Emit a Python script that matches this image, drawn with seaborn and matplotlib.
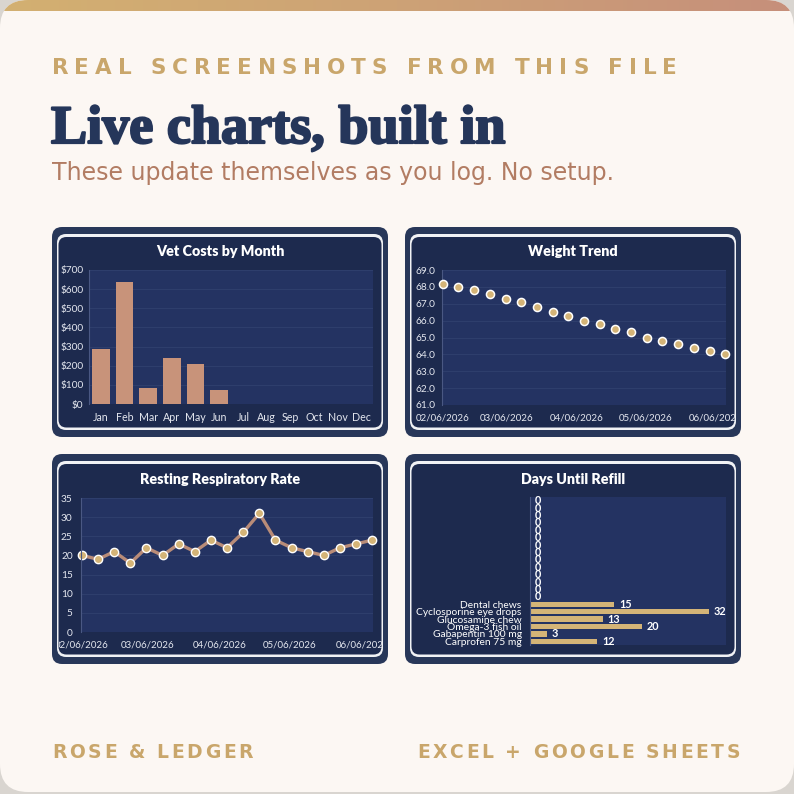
import numpy as np
import pandas as pd
import matplotlib
matplotlib.use('Agg')
import matplotlib.pyplot as plt
import matplotlib.patheffects as pe
import seaborn as sns
from matplotlib.patches import FancyBboxPatch
from matplotlib.font_manager import FontProperties
from matplotlib.colors import LinearSegmentedColormap
from matplotlib.ticker import FixedLocator, StrMethodFormatter
from matplotlib.transforms import Bbox

# chart data
months = ['Jan', 'Feb', 'Mar', 'Apr', 'May', 'Jun', 'Jul', 'Aug', 'Sep', 'Oct', 'Nov', 'Dec']
vet_costs = [285, 635, 85, 240, 210, 75, 0, 0, 0, 0, 0, 0]

weight_kg = [68.2, 68.0, 67.8, 67.6, 67.3, 67.1, 66.8, 66.5, 66.3, 66.0,
             65.8, 65.5, 65.3, 65.0, 64.8, 64.6, 64.4, 64.2, 64.0]
resp_rate = [20, 19, 21, 18, 22, 20, 23, 21, 24, 22, 26, 31, 24, 22, 21, 20, 22, 23, 24]
date_labels = ['02/06/2026', '03/06/2026', '04/06/2026', '05/06/2026', '06/06/2026']
date_tick_pos = [0, 4.05, 8.55, 12.9, 17.4]

blank_rows = [' ' * (i + 1) for i in range(14)]
meds = blank_rows + ['Dental chews', 'Cyclosporine eye drops', 'Glucosamine chew',
                     'Omega-3 fish oil', 'Gabapentin 100 mg', 'Carprofen 75 mg']
days_left = [0] * 14 + [15, 32, 13, 20, 3, 12]

# colours
cream = '#FCF7F3'
gold_txt = '#C9A66B'
navy_txt = '#25365A'
rose_txt = '#B27C63'
frame_col = '#283759'
inner_col = '#1D2A4E'
plot_col = '#243362'
grid_col = '#2F3F6D'
bar_rose = '#C8937A'
gold = '#D4B477'
line_rose = '#B98C78'
tick_col = '#E4E7EF'

sns.set_theme(style='white')
plt.rcParams['font.family'] = ['Lato', 'DejaVu Sans']

W = H = 794
fig = plt.figure(figsize=(7.94, 7.94), dpi=100, facecolor='#D9D5D0')
bg = fig.add_axes([0, 0, 1, 1])
bg.set_xlim(0, W)
bg.set_ylim(H, 0)
bg.axis('off')

card = FancyBboxPatch((0, 0), W, H - 2, boxstyle='round,pad=0,rounding_size=28',
                      fc=cream, ec='none', zorder=0)
bg.add_patch(card)
grad_cmap = LinearSegmentedColormap.from_list('band', ['#D3B071', '#CDA276', '#C68F7B'])
im = bg.imshow(np.linspace(0, 1, 256).reshape(1, -1), extent=(0, W, 11, 0),
               cmap=grad_cmap, aspect='auto', zorder=1)
im.set_clip_path(card)
bg.set_xlim(0, W)
bg.set_ylim(H, 0)

renderer = fig.canvas.get_renderer()


def spaced_text(x, y, s, size, color, width, family='DejaVu Sans', weight='bold'):
    # matplotlib has no letter-spacing, so lay out the letters one by one
    fp = FontProperties(family=family, weight=weight, size=size)
    widths = [renderer.get_text_width_height_descent(ch, fp, ismath=False)[0] for ch in s]
    track = (width - sum(widths)) / (len(s) - 1)
    for ch, w in zip(s, widths):
        bg.text(x, y, ch, fontproperties=fp, color=color, va='baseline', ha='left')
        x += w + track


spaced_text(52, 74, 'REAL SCREENSHOTS FROM THIS FILE', 15.5, gold_txt, 625)
bg.text(51, 143, 'Live charts, built in', family=['Liberation Serif', 'DejaVu Serif'],
        weight='bold', size=39, color=navy_txt, va='baseline',
        path_effects=[pe.withStroke(linewidth=1.6, foreground=navy_txt)])
bg.text(52, 180, 'These update themselves as you log. No setup.', size=17,
        family=['DejaVu Sans'], color=rose_txt, va='baseline')
spaced_text(52, 758, 'ROSE & LEDGER', 13.5, gold_txt, 201)
spaced_text(417, 758, 'EXCEL + GOOGLE SHEETS', 13.5, gold_txt, 323)


def panel(box, title):
    x0, y0, x1, y1 = box
    bg.add_patch(FancyBboxPatch((x0, y0), x1 - x0, y1 - y0,
                                boxstyle='round,pad=0,rounding_size=10', fc=frame_col, ec='none'))
    bg.add_patch(FancyBboxPatch((x0 + 5, y0 + 7), x1 - x0 - 10, y1 - y0 - 14,
                                boxstyle='round,pad=0,rounding_size=9', fc='#F1F2F5', ec='none'))
    bg.add_patch(FancyBboxPatch((x0 + 6.5, y0 + 10), x1 - x0 - 13, y1 - y0 - 19.5,
                                boxstyle='round,pad=0,rounding_size=8', fc=inner_col, ec='none'))
    bg.text((x0 + x1) / 2, y0 + 25, title, ha='center', va='center', color='white',
            weight='heavy', size=10.3)
    return Bbox.from_extents(x0 + 6.5, H - (y1 - 9.5), x1 - 6.5, H - (y0 + 10))


def chart_axes(x0, y0, x1, y1):
    ax = fig.add_axes([x0 / W, 1 - y1 / H, (x1 - x0) / W, (y1 - y0) / H])
    ax.set_facecolor(plot_col)
    for side in ['top', 'right', 'bottom']:
        ax.spines[side].set_visible(False)
    ax.spines['left'].set_color('#4A5883')
    ax.spines['left'].set_linewidth(0.8)
    ax.tick_params(length=0, colors=tick_col, labelsize=7.3)
    ax.set_axisbelow(True)
    return ax


p1 = panel((52, 227, 388, 437), 'Vet Costs by Month')
p2 = panel((405, 227, 741, 437), 'Weight Trend')
p3 = panel((52, 454, 388, 664), 'Resting Respiratory Rate')
p4 = panel((405, 454, 741, 664), 'Days Until Refill')

# Vet costs
ax1 = chart_axes(89, 270, 373, 404)
sns.barplot(x=months, y=vet_costs, color=bar_rose, saturation=1, width=0.75,
            linewidth=0, edgecolor='none', ax=ax1)
ax1.set_ylim(0, 700)
ax1.yaxis.set_major_locator(FixedLocator(range(0, 701, 100)))
ax1.yaxis.set_major_formatter(StrMethodFormatter('${x:.0f}'))
ax1.grid(axis='y', color=grid_col, lw=0.7)
ax1.tick_params(axis='y', pad=4)
ax1.tick_params(axis='x', pad=6, labelsize=7.7)
ax1.set(xlabel='', ylabel='')

# Weight trend
ax2 = chart_axes(442, 270, 726, 405)
wdf = pd.DataFrame({'step': range(len(weight_kg)), 'weight': weight_kg})
sns.scatterplot(data=wdf, x='step', y='weight', color=gold, edgecolor='white',
                linewidth=1.1, s=34, ax=ax2, zorder=3, clip_on=False)
ax2.set_ylim(61, 69)
ax2.set_xlim(-0.05, 18.05)
ax2.yaxis.set_major_locator(FixedLocator(range(61, 70)))
ax2.yaxis.set_major_formatter(StrMethodFormatter('{x:.1f}'))
ax2.set_xticks(date_tick_pos, date_labels)
ax2.grid(axis='y', color=grid_col, lw=0.7)
ax2.tick_params(axis='y', pad=5)
ax2.tick_params(axis='x', pad=6, labelsize=7)
ax2.set(xlabel='', ylabel='')

# Respiratory rate
ax3 = chart_axes(81, 498, 373, 632)
rdf = pd.DataFrame({'step': range(len(resp_rate)), 'rate': resp_rate})
sns.lineplot(data=rdf, x='step', y='rate', color=line_rose, lw=2.4, marker='o',
             markersize=6, markerfacecolor=gold, markeredgecolor='white',
             markeredgewidth=1.0, ax=ax3, clip_on=False)
ax3.set_ylim(0, 35)
ax3.set_xlim(-0.06, 18.05)
ax3.yaxis.set_major_locator(FixedLocator(range(0, 36, 5)))
ax3.set_xticks(date_tick_pos, date_labels)
ax3.grid(axis='y', color=grid_col, lw=0.7)
ax3.tick_params(axis='y', pad=6)
ax3.tick_params(axis='x', pad=6, labelsize=7)
ax3.set(xlabel='', ylabel='')

for ax, clip in [(ax2, p2), (ax3, p3)]:
    for tick in ax.xaxis.get_major_ticks():
        tick.label1.set_clip_box(clip)
        tick.label1.set_clip_on(True)

# Days until refill
ax4 = chart_axes(530, 497, 726, 645)
sns.barplot(x=days_left, y=meds, orient='h', color=gold, saturation=1, width=0.73,
            linewidth=0, edgecolor='none', ax=ax4)
ax4.set_xlim(0, 35)
ax4.set_xticks([])
ax4.tick_params(axis='y', pad=6, labelsize=7.4, colors='white')
ax4.bar_label(ax4.containers[0], fmt='%g', padding=3.5, color='white',
              fontweight='bold', fontsize=7.8)
ax4.set(xlabel='', ylabel='')

fig.savefig('out.png', dpi=100, facecolor=fig.get_facecolor())
